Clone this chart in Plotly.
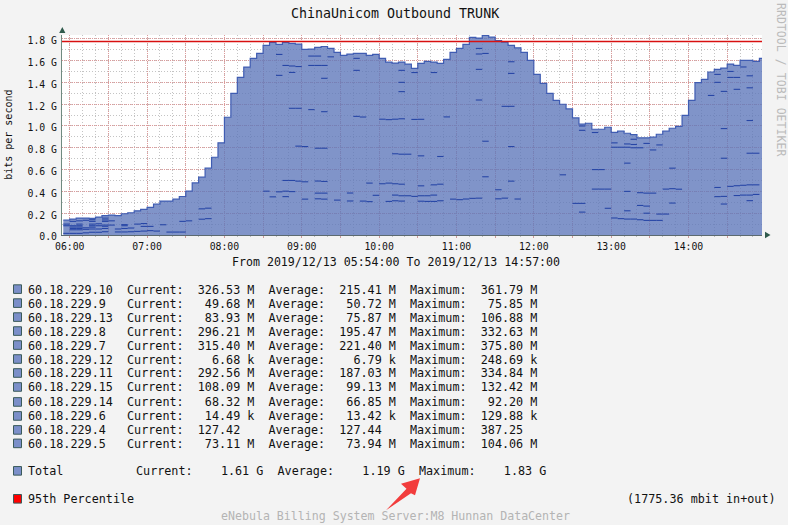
import pandas as pd
import plotly.graph_objects as go

# stack tops, Mbit/s, one value per 5 minute step from 05:55
top_10 = [15, 15, 15, 20, 25, 25, 30, 35, 28, 28,
          30, 33, 36, 40, 36, 36, 27, 27, 27, 33,
          40, 48, 56, 70, 95, 130, 160, 190, 225, 265,
          300, 325, 350, 345, 352, 349, 340, 329, 325, 332,
          329, 329, 320, 326, 312, 318, 311, 306, 311, 300,
          308, 314, 311, 311, 303, 310, 308, 308, 314, 320,
          329, 324, 330, 336, 338, 333, 340, 332, 338, 338,
          330, 325, 310, 296, 280, 262, 240, 225, 205, 186,
          210, 216, 195, 180, 165, 156, 150, 146, 146, 140,
          134, 134, 134, 140, 150, 160, 170, 200, 229, 245,
          260, 275, 284, 284, 300, 308, 315, 320, 327]
top_9 = [33, 48, 48, 52, 55, 55, 60, 63, 55, 60,
         64, 70, 79, 79, 85, 94, 100, 110, 125, 130,
         135, 145, 150, 155, 175, 200, 250, 300, 340, 360,
         380, 402, 405, 396, 402, 398, 392, 384, 391, 384,
         384, 384, 392, 376, 385, 379, 372, 380, 364, 370,
         358, 366, 360, 360, 354, 360, 360, 366, 372, 380,
         393, 386, 393, 400, 408, 415, 408, 415, 415, 422,
         415, 408, 395, 380, 360, 330, 320, 310, 300, 290,
         290, 285, 270, 255, 245, 240, 230, 222, 216, 208,
         200, 200, 192, 192, 197, 208, 230, 255, 300, 312,
         340, 352, 354, 354, 362, 366, 366, 372, 376]
top_13 = [50, 60, 60, 66, 72, 72, 80, 85, 78, 85,
          90, 100, 105, 110, 118, 125, 132, 140, 150, 190,
          225, 240, 246, 250, 275, 320, 360, 402, 430, 455,
          480, 505, 521, 510, 500, 500, 494, 488, 482, 495,
          491, 491, 498, 487, 495, 480, 488, 476, 482, 470,
          476, 470, 466, 466, 458, 451, 451, 460, 466, 466,
          476, 484, 492, 506, 520, 534, 534, 520, 505, 494,
          495, 480, 470, 450, 430, 400, 390, 380, 370, 360,
          350, 340, 330, 321, 310, 300, 293, 285, 278, 271,
          265, 265, 272, 284, 293, 293, 308, 330, 370, 395,
          420, 436, 436, 446, 452, 456, 460, 460, 460]
top_8 = [60, 73, 73, 78, 85, 85, 91, 91, 85, 95,
         100, 110, 118, 128, 135, 150, 160, 170, 182, 225,
         250, 290, 315, 330, 370, 420, 500, 604, 640, 680,
         715, 775, 842, 835, 842, 830, 815, 811, 805, 796,
         796, 796, 805, 788, 796, 775, 762, 770, 752, 745,
         738, 745, 741, 741, 735, 726, 722, 730, 720, 720,
         780, 800, 825, 845, 872, 860, 860, 845, 825, 811,
         811, 790, 750, 700, 650, 600, 575, 552, 552, 500,
         470, 445, 421, 421, 421, 421, 410, 400, 395, 388,
         384, 384, 390, 421, 425, 420, 420, 435, 470, 490,
         540, 620, 704, 704, 718, 729, 750, 750, 756]
top_7 = [73, 85, 85, 91, 100, 103, 103, 110, 100, 112,
         120, 130, 140, 150, 165, 182, 195, 205, 220, 256,
         300, 340, 370, 400, 470, 600, 680, 760, 825, 915,
         1000, 1060, 1100, 1118, 1135, 1162, 1162, 1162, 1150, 1145,
         1131, 1125, 1116, 1105, 1095, 1088, 1082, 1080, 1070, 1062,
         1058, 1062, 1066, 1070, 1060, 1061, 1061, 1070, 1050, 1083,
         1083, 1110, 1150, 1200, 1238, 1238, 1225, 1200, 1180, 1180,
         1180, 1160, 1110, 1060, 1031, 994, 960, 900, 800, 700,
         622, 610, 600, 600, 600, 567, 668, 659, 659, 645,
         637, 620, 610, 625, 613, 613, 625, 650, 720, 800,
         880, 950, 976, 976, 1000, 1030, 1050, 1050, 1072]
top_11 = [85, 91, 100, 103, 110, 118, 125, 130, 125, 138,
          155, 165, 180, 195, 210, 219, 235, 260, 283, 329,
          355, 390, 450, 500, 620, 800, 950, 1050, 1150, 1230,
          1300, 1370, 1440, 1464, 1464, 1491, 1491, 1480, 1470, 1455,
          1437, 1437, 1428, 1450, 1437, 1420, 1430, 1412, 1400, 1392,
          1385, 1350, 1315, 1315, 1300, 1290, 1280, 1290, 1300, 1310,
          1320, 1360, 1420, 1470, 1519, 1519, 1510, 1500, 1490, 1482,
          1480, 1465, 1381, 1336, 1244, 1200, 1153, 1086, 1070, 990,
          910, 903, 880, 860, 842, 805, 805, 805, 800, 800,
          805, 780, 780, 790, 805, 780, 800, 850, 1000, 1150,
          1280, 1281, 1317, 1317, 1336, 1336, 1350, 1350, 1364]
top_15 = [100, 103, 110, 118, 125, 130, 138, 143, 135, 146,
          175, 185, 195, 210, 230, 246, 255, 283, 310, 353,
          402, 440, 500, 590, 680, 920, 1100, 1230, 1300, 1380,
          1460, 1490, 1520, 1540, 1555, 1550, 1545, 1540, 1555, 1555,
          1555, 1555, 1545, 1530, 1520, 1510, 1515, 1505, 1490, 1470,
          1450, 1420, 1400, 1400, 1390, 1400, 1420, 1440, 1482, 1490,
          1500, 1540, 1583, 1641, 1660, 1665, 1665, 1650, 1620, 1589,
          1590, 1550, 1513, 1406, 1330, 1240, 1200, 1160, 1090, 1031,
          960, 955, 895, 878, 890, 845, 845, 835, 830, 826,
          840, 845, 826, 830, 850, 860, 900, 990, 1100, 1240,
          1350, 1400, 1400, 1445, 1445, 1445, 1460, 1460, 1473]
top_14 = [118, 125, 130, 135, 140, 146, 155, 160, 150, 165,
          190, 205, 215, 230, 250, 283, 295, 311, 329, 378,
          440, 500, 570, 660, 780, 1010, 1220, 1360, 1440, 1530,
          1600, 1670, 1693, 1656, 1656, 1680, 1670, 1650, 1641, 1641,
          1641, 1634, 1634, 1600, 1612, 1620, 1618, 1605, 1590, 1552,
          1535, 1525, 1510, 1510, 1490, 1490, 1500, 1490, 1490, 1482,
          1600, 1660, 1720, 1732, 1711, 1711, 1745, 1732, 1700, 1670,
          1660, 1620, 1560, 1440, 1360, 1270, 1210, 1180, 1130, 1040,
          1000, 1000, 940, 940, 950, 900, 910, 890, 878, 878,
          870, 878, 890, 920, 945, 960, 1040, 1180, 1281, 1350,
          1400, 1473, 1473, 1500, 1500, 1541, 1541, 1530, 1541]
top_5 = [136, 146, 155, 155, 152, 164, 177, 183, 177, 195,
         204, 222, 235, 253, 283, 311, 311, 329, 353, 402,
         478, 530, 613, 713, 845, 1080, 1299, 1446, 1540, 1620,
         1665, 1739, 1766, 1748, 1766, 1757, 1751, 1702, 1705, 1720,
         1729, 1711, 1674, 1647, 1659, 1665, 1665, 1647, 1656, 1620,
         1586, 1577, 1586, 1568, 1528, 1574, 1592, 1586, 1574, 1610,
         1674, 1711, 1748, 1812, 1806, 1830, 1815, 1784, 1769, 1739,
         1717, 1674, 1601, 1473, 1391, 1299, 1235, 1199, 1156, 1074,
         1016, 1025, 970, 970, 988, 942, 952, 933, 921, 891,
         891, 897, 924, 952, 979, 997, 1098, 1235, 1397, 1427,
         1495, 1519, 1531, 1568, 1556, 1601, 1601, 1592, 1620]

# .12, .6 and .4 only carry k/bit traffic, their tops sit on the next layer down
stack_tops = [top_10, top_9, top_13, top_8, top_7, top_11, top_15, top_14]

percentile_95 = 1775.36

hosts = ["60.18.229.10", "60.18.229.9", "60.18.229.13", "60.18.229.8", "60.18.229.7", "60.18.229.12",
         "60.18.229.11", "60.18.229.15", "60.18.229.14", "60.18.229.6", "60.18.229.4", "60.18.229.5"]
current = ["326.53 M", "49.68 M", "83.93 M", "296.21 M", "315.40 M", "6.68 k",
           "292.56 M", "108.09 M", "68.32 M", "14.49 k", "127.42  ", "73.11 M"]
average = ["215.41 M", "50.72 M", "75.87 M", "195.47 M", "221.40 M", "6.79 k",
           "187.03 M", "99.13 M", "66.85 M", "13.42 k", "127.44  ", "73.94 M"]
maximum = ["361.79 M", "75.85 M", "106.88 M", "332.63 M", "375.80 M", "248.69 k",
           "334.84 M", "132.42 M", "92.20 M", "129.88 k", "387.25  ", "104.06 M"]

x_ticks = ["2019-12-13 %02d:%02d" % (h, m) for h in range(6, 15) for m in (0, 30)][:18]
x_labels = ["%02d:00" % (6 + i // 2) if i % 2 == 0 else "" for i in range(len(x_ticks))]
y_ticks = [0, 200, 400, 600, 800, 1000, 1200, 1400, 1600, 1800]
y_labels = ["0.0", "0.2 G", "0.4 G", "0.6 G", "0.8 G", "1.0 G", "1.2 G", "1.4 G", "1.6 G", "1.8 G"]

WIDTH, HEIGHT = 788, 525
LEFT, RIGHT, TOP, BOTTOM = 62, 762, 35, 235.3
FILL = "rgba(92,118,186,0.78)"
MONO = "DejaVu Sans Mono"


def px(x):
    return (x - LEFT) / (RIGHT - LEFT)


def py(y):
    return (BOTTOM - y) / (BOTTOM - TOP)


def poly(points):
    return "M" + " L".join("%.5f,%.5f" % (px(a), py(b)) for a, b in points) + " Z"


def label(fig, x, y, text, size=11.75, color="#111111", anchor="left", angle=0):
    fig.add_annotation(x=px(x), y=py(y + (1 if angle == 0 else 0)), xref="paper", yref="paper", text=text,
                       showarrow=False, xanchor=anchor, yanchor="middle", textangle=angle, borderpad=0,
                       font=dict(family=MONO, size=size, color=color))


times = pd.date_range("2019-12-13 05:55", periods=len(top_5), freq="5min")
x_edges = list(times) + [times[-1] + pd.Timedelta(minutes=5)]

fig = go.Figure()

# one area under the total, abutting stacked fills leave white seams
fig.add_trace(go.Scatter(x=x_edges, y=top_5 + [top_5[-1]], mode="lines",
                         line=dict(color="#3f5cb2", width=1.2, shape="hv"),
                         fill="tozeroy", fillcolor=FILL, hoverinfo="skip"))

# rrd only shows the dark layer edge where a stack top stays flat
for top in stack_tops:
    xs, ys = [], []
    for i in range(len(top) - 1):
        if abs(top[i + 1] - top[i]) <= 6:
            xs += [x_edges[i], x_edges[i + 1], None]
            ys += [top[i], top[i], None]
    fig.add_trace(go.Scatter(x=xs, y=ys, mode="lines", line=dict(color="#2746a6", width=1.1), hoverinfo="skip"))

fig.add_trace(go.Scatter(x=[x_edges[0] - pd.Timedelta(minutes=5), x_edges[-1]], y=[percentile_95, percentile_95],
                         mode="lines", line=dict(color="#d81010", width=1.5), hoverinfo="skip"))

fig.update_layout(
    width=WIDTH, height=HEIGHT, autosize=False, showlegend=False,
    paper_bgcolor="#f3f3f3", plot_bgcolor="#ffffff",
    margin=dict(l=LEFT, r=WIDTH - RIGHT, t=TOP, b=HEIGHT - BOTTOM, pad=0),
)
fig.update_xaxes(
    type="date", range=["2019-12-13 05:54", "2019-12-13 14:57"],
    tickmode="array", tickvals=x_ticks, ticktext=x_labels, tickangle=0,
    tickfont=dict(family=MONO, size=9.8, color="#111111"),
    ticks="outside", ticklen=2, tickcolor="#c99", showline=True, linecolor="#5c6a70", linewidth=1,
    showgrid=True, gridcolor="#dd9a9a", griddash="1px,1px", gridwidth=1, zeroline=False,
    minor=dict(dtick=600000, tick0="2019-12-13 06:00", showgrid=True, gridcolor="#c4c4c4", griddash="1px,2px",
               ticks="outside", ticklen=1, tickcolor="#bbb"),
)
fig.update_yaxes(
    range=[0, (BOTTOM - TOP) / 109.2 * 1000],
    tickmode="array", tickvals=y_ticks, ticktext=y_labels, ticklabelshift=2,
    tickfont=dict(family=MONO, size=9.8, color="#111111"),
    ticks="outside", ticklen=2, tickcolor="rgba(0,0,0,0)", showline=True, linecolor="#6f8a80", linewidth=1,
    showgrid=True, gridcolor="#dd9a9a", griddash="1px,1px", gridwidth=1, zeroline=False,
    minor=dict(dtick=100, tick0=0, showgrid=True, gridcolor="#c4c4c4", griddash="1px,2px"),
)

# axis arrows
for pts in ([(62.3, 27), (59.2, 33), (65.4, 33)], [(770.5, 235.3), (765, 232), (765, 238.6)]):
    fig.add_shape(type="path", xref="paper", yref="paper", path=poly(pts),
                  fillcolor="#2f5a4c", line=dict(width=0))

label(fig, 395, 12, "ChinaUnicom Outbound TRUNK", size=13.3, anchor="center")
label(fig, 9, 135, "bits per second", size=10, anchor="center", angle=-90)
label(fig, 781, 80, "RRDTOOL / TOBI OETIKER", size=11.6, color="#bbbbbb", anchor="center", angle=90)
label(fig, 396, 261, "From 2019/12/13 05:54:00 To 2019/12/13 14:57:00", size=11.6, anchor="center")

# legend rows
row_y = [289, 303, 317, 331, 345, 359, 373, 387, 402, 416, 430, 443.5]
for y, host, cur, avg, top in zip(row_y, hosts, current, average, maximum):
    label(fig, 26.7, y, f"{host:<14}Current:  {cur:>8}  Average:  {avg:>8}  Maximum:  {top:>8}")
label(fig, 26.7, 471, "Total")
label(fig, 134.5, 471, f"Current:  {'1.61 G':>8}  Average:  {'1.19 G':>8}  Maximum:  {'1.83 G':>8}")
label(fig, 26.7, 499, "95th Percentile")
label(fig, 777, 499, f"({percentile_95} mbit in+out)", anchor="right")
label(fig, 395, 516, "eNebula Billing System Server:M8 Hunnan DataCenter", size=11.6, color="#b4b4b4", anchor="center")

for y, color in [(v, "#7b8fc9") for v in row_y + [471]] + [(499, "#ff0000")]:
    fig.add_shape(type="rect", xref="paper", yref="paper", x0=px(13.5), x1=px(21.5), y0=py(y - 3.8), y1=py(y + 4.8),
                  fillcolor=color, line=dict(color="#3a5a5a", width=1))

# red arrow pasted over the screenshot
fig.add_shape(type="path", xref="paper", yref="paper", fillcolor="#f23c3c", line=dict(width=0),
              path=poly([(420, 479), (401, 484.5), (406.5, 489.5), (386, 511), (411, 494), (415, 496)]))

fig.write_html("out.html", config={"displayModeBar": False},
               post_script="document.body.style.margin='0';document.body.style.overflow='hidden';")
